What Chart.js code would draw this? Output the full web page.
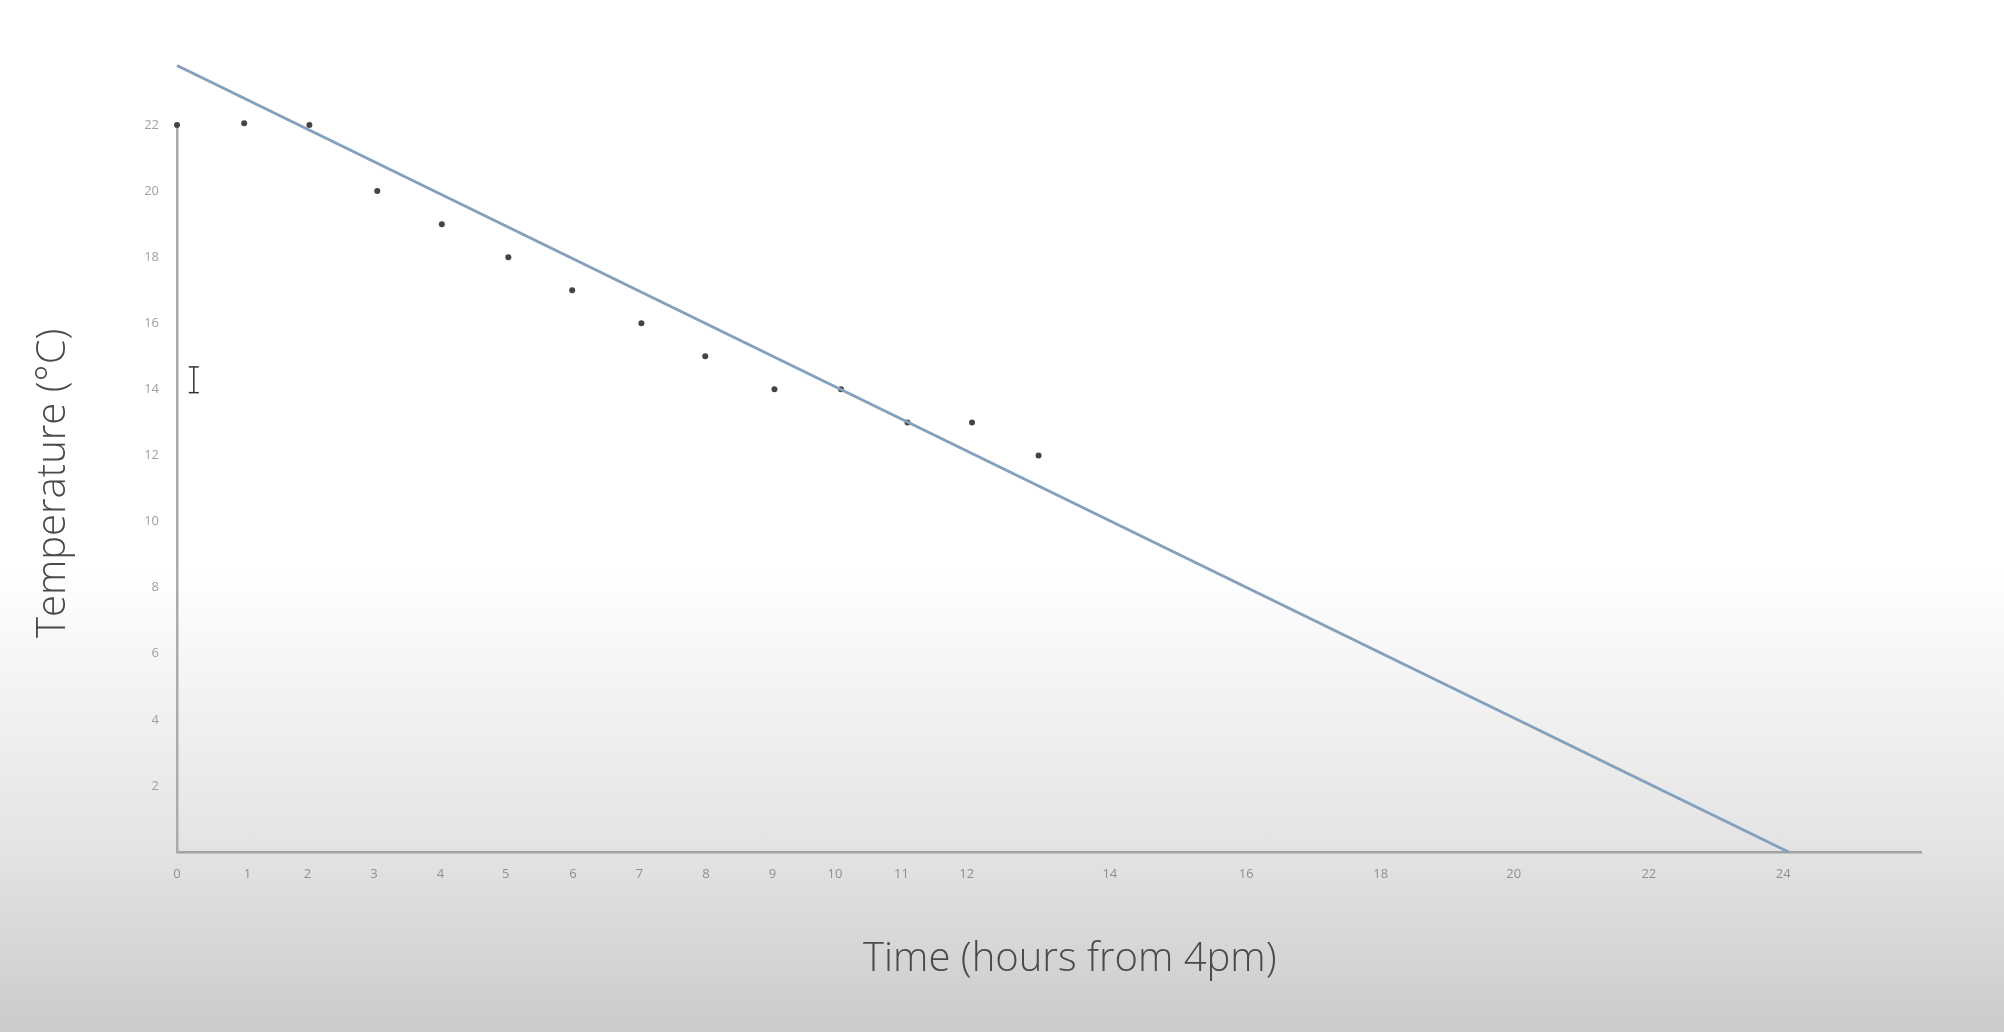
<!DOCTYPE html>
<html lang="en">
<head>
  <meta charset="UTF-8" />
  <title>Temperature vs time</title>
  <script src="https://cdn.jsdelivr.net/npm/chart.js"></script>
  <style>
    html, body { margin: 0; height: 100%; overflow: hidden; }
    body { background: linear-gradient(to bottom, #fff 0, #fff 55%, #f4f4f4 66%, #e4e4e4 82%, #cbcbcb 100%); }
    canvas { display: block; }
  </style>
</head>
<body>

<canvas id="chart" width="2004" height="1032"></canvas>

<script>
  // Values (the hand drawn hours are slightly uneven)
  const hours = [0, 1, 1.97, 2.98, 3.94, 4.93, 5.88, 6.91, 7.86, 8.89, 9.88, 10.87, 11.83, 12.82];
  const temps = [22, 22.05, 22, 20, 19, 18, 17, 16, 15, 14, 14, 13, 13, 12];

  const fitHours = [0, 23.98];
  const fitTemps = [23.8, 0];

  const xTicks = [0, 1.05, 1.94, 2.93, 3.92, 4.89, 5.89, 6.88, 7.87, 8.86, 9.79, 10.78, 11.75, 13.88, 15.91, 17.91, 19.89, 21.9, 23.9];
  const yTicks = [2, 4, 6, 8, 10, 12, 14, 16, 18, 20, 22];

  // text cursor that sits on the recording
  const cursorHours = [0.25, 0.25];
  const cursorTemps = [13.9, 14.68];

  const toPoints = (xs, ys) => xs.map((x, i) => ({ x: x, y: ys[i] }));

  new Chart(document.getElementById('chart'), {
    type: 'scatter',
    data: {
      datasets: [
        {
          data: toPoints(fitHours, fitTemps),
          showLine: true,
          borderColor: '#84a0be',
          borderWidth: 3,
          pointRadius: 0,
          clip: false
        },
        {
          data: toPoints(hours, temps),
          pointRadius: 3,
          pointBackgroundColor: '#444',
          pointBorderWidth: 0,
          clip: false
        },
        {
          data: toPoints(cursorHours, cursorTemps),
          showLine: true,
          borderColor: '#333',
          borderWidth: 1.5,
          pointStyle: 'line',
          pointRadius: 5,
          pointBorderColor: '#333',
          pointBorderWidth: 1.5,
          clip: false
        }
      ]
    },
    options: {
      responsive: false,
      animation: false,
      events: [],
      layout: { padding: { top: 125, right: 83, left: 0, bottom: 0 } },
      plugins: { legend: { display: false }, tooltip: { enabled: false } },
      scales: {
        x: {
          type: 'linear',
          min: 0,
          max: 25.95,
          afterBuildTicks: axis => { axis.ticks = xTicks.map(v => ({ value: v })); },
          afterFit: axis => { axis.height = 180; },
          grid: { display: false, drawTicks: false },
          border: { color: '#a2a2a2', width: 2.5 },
          ticks: {
            autoSkip: false,
            maxRotation: 0,
            padding: 14,
            color: '#8f8f8f',
            font: { family: 'Open Sans', size: 13 },
            callback: v => Math.round(v)
          },
          title: {
            display: true,
            text: '\u00a0\u00a0\u00a0\u00a0Time (hours from 4pm)',
            color: '#4a4a4a',
            font: { family: 'Open Sans', size: 40, weight: '300' },
            padding: { top: 0, bottom: 48 }
          }
        },
        y: {
          type: 'linear',
          min: 0,
          max: 22,
          afterBuildTicks: axis => { axis.ticks = yTicks.map(v => ({ value: v })); },
          afterFit: axis => { axis.width = 177; },
          grid: { display: false, drawTicks: false },
          border: { color: '#ababab', width: 2.5 },
          ticks: {
            autoSkip: false,
            padding: 18,
            color: '#a0a0a0',
            font: { family: 'Open Sans', size: 13 },
            callback: v => v
          },
          title: {
            display: true,
            text: '\u00a0Temperature (°C)',
            color: '#4a4a4a',
            font: { family: 'Open Sans', size: 40, weight: '300' },
            padding: { top: 30, bottom: 0 }
          }
        }
      }
    }
  });
</script>

</body>
</html>
